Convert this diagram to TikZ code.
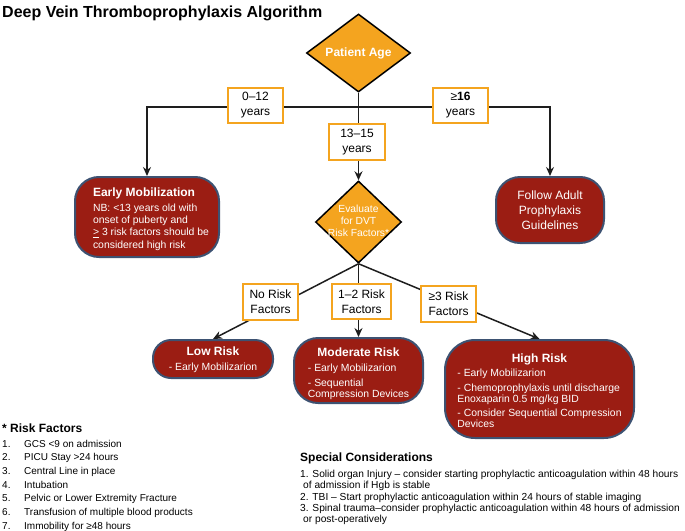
\documentclass[tikz,border=0pt]{standalone}
\usepackage{fontspec}
\setmainfont{Liberation Sans}
\usetikzlibrary{shapes.geometric,arrows.meta}
\definecolor{dvtorange}{HTML}{F4A41F}
\definecolor{dvtred}{HTML}{9B1D13}
\definecolor{dvtborder}{HTML}{3D5272}
\definecolor{dvtline}{HTML}{1E1E1E}
\tikzset{
  decision/.style={shape=diamond, draw=black, line width=1.5pt, fill=dvtorange, inner sep=0pt},
  rbox/.style={draw=dvtborder, line width=2pt, fill=dvtred, text=white, inner sep=0pt, rounded corners=24pt},
  lbl/.style={draw=dvtorange, line width=1.2pt, fill=white, inner sep=0pt, align=center, font=\fontsize{12}{15}\selectfont},
  conn/.style={draw=dvtline, line width=1.5pt},
  arr/.style={conn, -{Stealth[length=9pt,width=8pt,inset=3pt]}},
  txt/.style={inner sep=0pt, align=left}
}
\begin{document}
\begin{tikzpicture}[x=1pt,y=-1pt]
\useasboundingbox (0,0) rectangle (685,530);
\node[txt, anchor=base west, font=\fontsize{16}{19}\selectfont\bfseries] (title) at (2,17) {Deep Vein Thromboprophylaxis Algorithm};

% diamonds
\node[decision, minimum width=104pt, minimum height=78pt,
  label={[text=white, font=\fontsize{12}{14}\selectfont\bfseries]center:Patient Age}] (pa) at (358.5,53) {};
\node[decision, minimum width=86pt, minimum height=82pt,
  label={[text=white, align=center, font=\fontsize{10.3}{12}\selectfont, yshift=1.5pt]center:Evaluate\\for DVT\\Risk Factors*}] (ev) at (358.5,222) {};

% outcome boxes
\node[rbox, minimum width=144pt, minimum height=80pt, font=\fontsize{10.4}{12.2}\selectfont] (em) at (147,217)
  {\begin{tabular}{@{\hspace{8pt}}l@{}}\rule{0pt}{14.6pt}{\fontsize{12}{14}\selectfont\bfseries Early Mobilization}\\[2.5pt]
   NB: <13 years old with\\onset of puberty and\\\underline{>} 3 risk factors should be\\considered high risk\end{tabular}};
\node[rbox, minimum width=108pt, minimum height=66pt, align=center, font=\fontsize{12}{15}\selectfont] (fa) at (550,210)
  {Follow Adult\\Prophylaxis\\Guidelines};
\node[rbox, rounded corners=18pt, minimum width=120pt, minimum height=38pt, align=center, font=\fontsize{10.4}{12}\selectfont] (low) at (213,359)
  {\rule{0pt}{10.6pt}{\fontsize{12}{14}\selectfont\bfseries Low Risk}\\[3pt]- Early Mobilizarion};
\node[rbox, minimum width=129pt, minimum height=65pt, font=\fontsize{10.4}{12}\selectfont] (mod) at (358.5,370.5)
  {\begin{tabular}{@{}l@{}}\multicolumn{1}{@{}c@{}}{\rule{0pt}{16.6pt}\fontsize{12}{14}\selectfont\bfseries Moderate Risk}\\[3pt]
   - Early Mobilizarion\\[3pt]- Sequential\\[-1pt]Compression Devices\end{tabular}};
\node[rbox, rounded corners=30pt, minimum width=189pt, minimum height=98pt, font=\fontsize{10.4}{12}\selectfont] (high) at (539.5,389)
  {\begin{tabular}{@{}l@{}}\multicolumn{1}{@{}c@{}}{\rule{0pt}{15.6pt}\fontsize{12}{14}\selectfont\bfseries High Risk}\\[2pt]
   - Early Mobilizarion\\[3pt]- Chemoprophylaxis until discharge\\[-1pt]Enoxaparin 0.5 mg/kg BID\\[2pt]- Consider Sequential Compression\\[-1pt]Devices\end{tabular}};

% connectors
\coordinate (j) at (358.5,107);
\draw[arr] (pa.south) -- (ev.north);
\draw[arr] (j) -| (em.north);
\draw[arr] (j) -| (fa.north);
\draw[arr] (ev.south) -- (low.north);
\draw[arr] (ev.south) -- (mod.north);
\draw[arr] (ev.south) -- (high.north);

% labels
\node[lbl, minimum width=55pt, minimum height=35pt] (l012) at (255.5,105.5) {0–12\\years};
\node[lbl, minimum width=55pt, minimum height=35pt] (l16) at (460.5,105.5) {≥\textbf{16}\\years};
\node[lbl, minimum width=56pt, minimum height=36pt] (l1315) at (357,142) {13–15\\years};
\node[lbl, minimum width=55pt, minimum height=36pt] (lnr) at (270.5,302) {No Risk\\Factors};
\node[lbl, minimum width=59pt, minimum height=35pt] (l12) at (361.5,301.5) {1–2 Risk\\Factors};
\node[lbl, minimum width=55pt, minimum height=36pt] (l3) at (448.5,304) {≥3 Risk\\Factors};

% risk factors list
\node[txt, anchor=north west, font=\fontsize{10}{13.7}\selectfont] (rf) at (2,423.5)
  {{\fontsize{12}{14}\selectfont\bfseries * Risk Factors}\\[1pt]
   \makebox[22pt][l]{1.}GCS <9 on admission\\
   \makebox[22pt][l]{2.}PICU Stay >24 hours\\
   \makebox[22pt][l]{3.}Central Line in place\\
   \makebox[22pt][l]{4.}Intubation\\
   \makebox[22pt][l]{5.}Pelvic or Lower Extremity Fracture\\
   \makebox[22pt][l]{6.}Transfusion of multiple blood products\\
   \makebox[22pt][l]{7.}Immobility for ≥48 hours};

% special considerations
\node[txt, anchor=north west, font=\fontsize{10.2}{11.2}\selectfont] (sc) at (300,452.5)
  {{\fontsize{12}{14}\selectfont\bfseries Special Considerations}\\[5pt]
   1. Solid organ Injury – consider starting prophylactic anticoagulation within 48 hours\\
   \hspace*{3pt}of admission if Hgb is stable\\
   2. TBI – Start prophylactic anticoagulation within 24 hours of stable imaging\\
   3. Spinal trauma–consider prophylactic anticoagulation within 48 hours of admission\\
   \hspace*{3pt}or post-operatively};
\end{tikzpicture}
\end{document}
